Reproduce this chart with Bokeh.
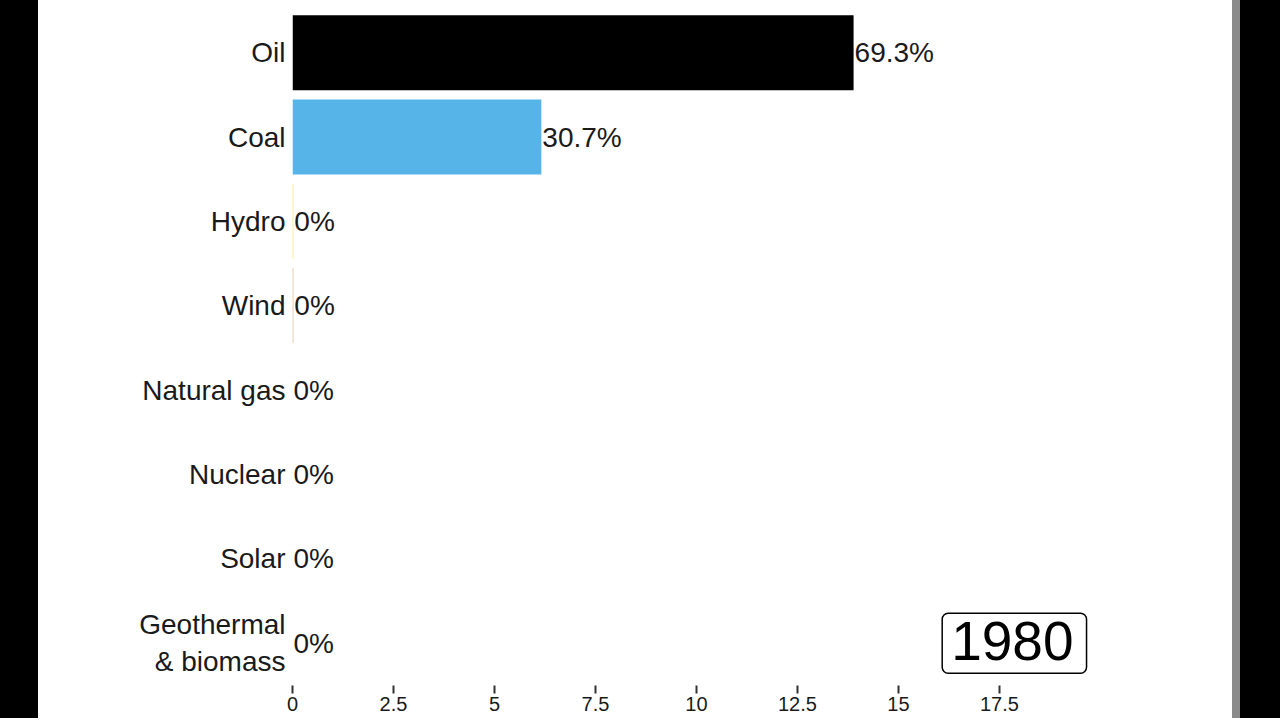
from bokeh.plotting import figure
from bokeh.models import ColumnDataSource, FixedTicker, Label, Div
from bokeh.layouts import row
from bokeh.embed import file_html
from bokeh.resources import INLINE
from bokeh.core.properties import value

# ---- data ----
categories = ["Oil", "Coal", "Hydro", "Wind", "Natural gas", "Nuclear", "Solar", "Geothermal\n& biomass"]
values = [13.89, 6.16, 0.02, 0.02, 0.0, 0.0, 0.0, 0.0]
share_labels = ["69.3%", "30.7%", "0%", "0%", "0%", "0%", "0%", "0%"]
bar_colors = ["#000000", "#56B4E9", "#F0E442", "#D2A679", "#009E73", "#CC79A7", "#E69F00", "#0072B2"]
x_ticks = [0, 2.5, 5, 7.5, 10, 12.5, 15, 17.5]
x_tick_labels = ["0", "2.5", "5", "7.5", "10", "12.5", "15", "17.5"]
year = "1980"

FONT = "Liberation Sans"
H = 718

src = ColumnDataSource(dict(cat=categories, val=values, lab=share_labels, col=bar_colors))

p = figure(
    y_range=list(reversed(categories)),
    x_range=(0, 23.27),
    width=1194, height=H,
    output_backend="svg", toolbar_location=None,
    min_border_left=254, min_border_right=0, min_border_top=10, min_border_bottom=33,
    margin=0,
)
p.y_range.range_padding = 0
p.outline_line_color = None
p.background_fill_color = "white"
p.border_fill_color = "white"
p.grid.visible = False

p.hbar(y="cat", right="val", left=0, height=0.89, color="col", line_color=None, source=src)
p.text(x="val", y="cat", text="lab", source=src, text_align="left", text_baseline="middle",
       text_font=value(FONT), text_font_size="28px", text_color="#1a1a1a", x_offset=1)

yax = p.yaxis[0]
yax.axis_line_color = None
yax.major_tick_line_color = None
yax.minor_tick_line_color = None
yax.major_tick_out = 0
yax.major_tick_in = 0
yax.major_label_standoff = 7
yax.major_label_text_font = FONT
yax.major_label_text_font_size = "28px"
yax.major_label_text_color = "#1a1a1a"

xax = p.xaxis[0]
xax.ticker = FixedTicker(ticks=x_ticks)
xax.major_label_overrides = {t: l for t, l in zip(x_ticks, x_tick_labels)}
xax.axis_line_color = None
xax.minor_tick_line_color = None
xax.major_tick_in = 0
xax.major_tick_out = 8
xax.major_tick_line_width = 2
xax.major_tick_line_color = "#333333"
xax.major_label_standoff = 3
xax.major_label_text_font = FONT
xax.major_label_text_font_size = "20px"
xax.major_label_text_color = "#1a1a1a"

lab = Label(x=17.87, y=0.5, text=year, text_align="center", text_baseline="middle",
            text_font=FONT, text_font_size="55px", text_color="black",
            border_line_color="black", border_line_width=1.5, border_radius=6,
            background_fill_color="white", padding=(9, 13, 9, 13))
p.add_layout(lab)

left_div = Div(width=38, height=H, margin=0, styles={"background-color": "black"})
noise_div = Div(width=8, height=H, margin=0, styles={"background-color": "#8a8a8a"})
right_div = Div(width=40, height=H, margin=0, styles={"background-color": "black"})

layout = row(left_div, p, noise_div, right_div, spacing=0)

open("out.html", "w").write(file_html(layout, INLINE))
